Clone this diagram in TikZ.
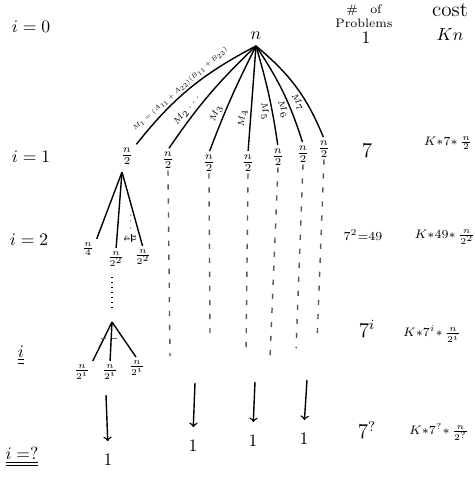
\documentclass[tikz,border=0pt]{standalone}
\usepackage{amsmath, amssymb}
\usetikzlibrary{arrows, positioning}

\begin{document}
\begin{tikzpicture}[x=0.02cm,y=-0.02cm,shorten >=1pt,auto]
    \tikzstyle{lvl}=[font=\normalsize]
    \tikzstyle{sub}=[inner sep=1pt,font=\small]
    \tikzstyle{tinysub}=[inner sep=1pt,font=\scriptsize]
    \tikzstyle{branch}=[thick]
    \tikzstyle{lbl}=[sloped,font=\tiny,inner sep=1.5pt]
    \tikzstyle{trail}=[thick,black!65,dash pattern=on 3pt off 5pt]
    \tikzstyle{drop}=[->,thick,shorten >=4pt]
    \tikzstyle{costs}=[font=\scriptsize,inner sep=1pt]

    \useasboundingbox (0,0) rectangle (474,477);

    % levels
    \node[lvl] (L0) at (31,27) {$i=0$};
    \node[lvl] (L1) at (31,157) {$i=1$};
    \node[lvl] (L2) at (29,240) {$i=2$};
    \node[lvl] (Li) at (21,355) {$\underline{\underline{i}}$};
    \node[lvl] (Lq) at (22,457) {$\underline{\underline{i=?}}$};

    % tree
    \node[lvl] (root) at (256,36) {$n$};
    \node[sub] (c1) at (127,156) {$\frac{n}{2}$};
    \node[sub] (c2) at (168,160) {$\frac{n}{2}$};
    \node[sub] (c3) at (209,163) {$\frac{n}{2}$};
    \node[sub] (c4) at (248,163) {$\frac{n}{2}$};
    \node[sub] (c5) at (278,157) {$\frac{n}{2}$};
    \node[sub] (c6) at (303,154) {$\frac{n}{2}$};
    \node[sub] (c7) at (324,149) {$\frac{n}{2}$};

    \draw[branch] (root.south) to[bend right=12] node[lbl,above,pos=0.55,scale=0.72] {$M_1=(A_{11}+A_{22})(B_{11}+B_{22})$} (c1.north east);
    \draw[branch] (root.south) to[bend right=6] node[lbl,above,pos=0.7] {$M_2\ldots$} (c2.north);
    \draw[branch] (root.south) to[bend right=3] node[lbl,above,pos=0.68] {$M_3$} (c3.north);
    \draw[branch] (root.south) -- node[lbl,above,pos=0.68] {$M_4$} (c4.north);
    \draw[branch] (root.south) to[bend left=4] node[lbl,below,pos=0.65] {$M_5$} (c5.north);
    \draw[branch] (root.south) to[bend left=8] node[lbl,below,pos=0.65] {$M_6$} (c6.north);
    \draw[branch] (root.south) to[bend left=14] node[lbl,below,pos=0.62] {$M_7$} (c7.north);

    % second level under the first n/2
    \coordinate (a1) at (122,172);
    \node[tinysub] (d1) at (88,249) {$\frac{n}{4}$};
    \node[tinysub] (d2) at (116,259) {$\frac{n}{2^2}$};
    \node[tinysub] (d3) at (143,257) {$\frac{n}{2^2}$};
    \node[font=\tiny,rotate=-90,inner sep=0pt] (dd) at (130,229) {$\cdots\frac{n}{4}$};
    \draw[branch] (a1) -- (d1.north east);
    \draw[branch] (a1) -- (d2.north);
    \draw[branch] (a1) -- (d3.north);

    \coordinate (t1) at (112,277);
    \coordinate (t2) at (112,309);
    \draw[thick,dotted] (t1) -- (t2);

    % level i
    \coordinate (a2) at (112,322);
    \node[tinysub] (e1) at (82,372) {$\frac{n}{2^i}$};
    \node[tinysub] (e2) at (110,372) {$\frac{n}{2^i}$};
    \node[tinysub] (e3) at (137,368) {$\frac{n}{2^i}$};
    \draw[branch] (a2) -- (e1.north east);
    \draw[branch] (a2) -- (e2.north);
    \draw[branch] (a2) -- (e3.north);
    \coordinate (h1) at (101,338);
    \coordinate (h2) at (123,338);
    \draw[thin,black!60,dashed] (h1) -- (h2);

    % the other six subtrees
    \coordinate (b2) at (170,358);
    \coordinate (b3) at (210,335);
    \coordinate (b4) at (246,355);
    \coordinate (b5) at (270,358);
    \coordinate (b6) at (296,350);
    \coordinate (b7) at (317,343);
    \draw[trail] (c2.south) -- (b2);
    \draw[trail] (c3.south) -- (b3);
    \draw[trail] (c4.south) -- (b4);
    \draw[trail] (c5.south) -- (b5);
    \draw[trail] (c6.south) -- (b6);
    \draw[trail] (c7.south) -- (b7);

    % leaves
    \node[lvl] (o1) at (108,460) {$1$};
    \node[lvl] (o2) at (193,446) {$1$};
    \node[lvl] (o3) at (253,441) {$1$};
    \node[lvl] (o4) at (304,439) {$1$};
    \coordinate (s1) at (106,395);
    \coordinate (s2) at (195,383);
    \coordinate (s3) at (255,382);
    \coordinate (s4) at (307,380);
    \draw[drop] (s1) -- (o1.north);
    \draw[drop] (s2) -- (o2.north);
    \draw[drop] (s3) -- (o3.north);
    \draw[drop] (s4) -- (o4.north);

    % number of problems
    \node[font=\scriptsize,align=center,inner sep=0pt] (hp) at (364,16) {\#\quad of\\ Problems};
    \node[lvl] (p0) at (366,38) {$1$};
    \node[font=\large] (p1) at (367,151) {$7$};
    \node[font=\scriptsize] (p2) at (363,235) {$7^2{=}49$};
    \node[font=\large] (p3) at (367,329) {$7^i$};
    \node[font=\large] (p4) at (367,430) {$7^?$};

    % cost
    \node[font=\large] (hc) at (450,10) {cost};
    \node[lvl] (k0) at (450,34) {$Kn$};
    \node[costs] (k1) at (448,143) {$K{\ast}7{\ast}\,\frac{n}{2}$};
    \node[costs] (k2) at (445,237) {$K{\ast}49{\ast}\,\frac{n}{2^2}$};
    \node[costs] (k3) at (432,334) {$K{\ast}7^i{\ast}\,\frac{n}{2^i}$};
    \node[costs] (k4) at (439,432) {$K{\ast}7^?{\ast}\,\frac{n}{2^?}$};
\end{tikzpicture}
\end{document}
